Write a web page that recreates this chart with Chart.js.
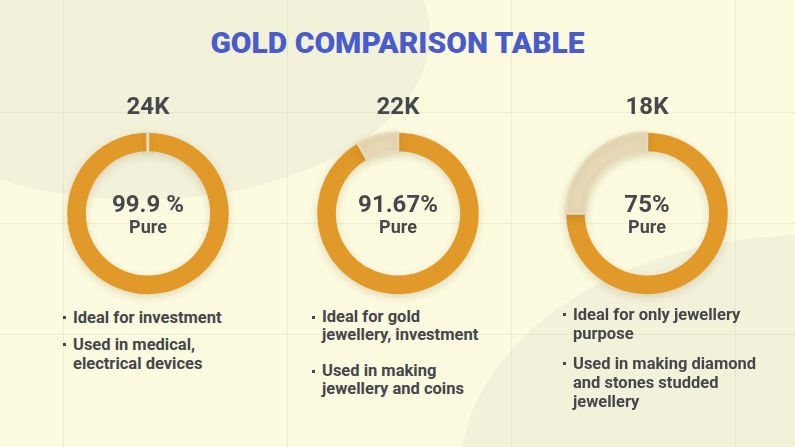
<!DOCTYPE html>
<html>
<head>
<meta charset="utf-8">
<script src="https://cdn.jsdelivr.net/npm/chart.js@4.4.0/dist/chart.umd.min.js"></script>
<style>
  html, body { margin: 0; padding: 0; }
  body {
    width: 795px; height: 447px; overflow: hidden; position: relative;
    background: #fcfbe0; font-family: Roboto, sans-serif;
  }
  .blob { position: absolute; background: #f2f1d9; border-radius: 50%; }
  .vline { position: absolute; top: 0; width: 1px; height: 447px; background: rgba(200,200,170,0.25); }
  .hline { position: absolute; left: 0; height: 1px; width: 795px; background: rgba(200,200,170,0.25); }
  h1 {
    position: absolute; left: 0; top: 25px; width: 795px; margin: 0;
    text-align: center; color: #4a5bcb; font-size: 30px; font-weight: 900; letter-spacing: 0px;
  }
  .box { position: absolute; width: 184px; height: 212px; }
  ul.uses {
    position: absolute; margin: 0; padding: 0; list-style: none;
    color: #45464a; font-size: 16.5px; font-weight: 700; line-height: 19px;
  }
  ul.uses li { position: relative; padding-left: 10px; }
  ul.uses li::before {
    content: ""; position: absolute; left: 0; top: 8px; width: 3px; height: 3px; background: #45464a;
  }
</style>
</head>
<body>
<div class="blob" style="left:-150px; top:-130px; width:580px; height:330px;"></div>
<div class="blob" style="left:460px; top:235px; width:700px; height:480px;"></div>
<div class="vline" style="left:63px"></div>
<div class="vline" style="left:287px"></div>
<div class="vline" style="left:511px"></div>
<div class="vline" style="left:735px"></div>
<div class="hline" style="top:112px"></div>
<div class="hline" style="top:223px"></div>
<div class="hline" style="top:334px"></div>

<h1>GOLD COMPARISON TABLE</h1>

<div class="box" style="left:56px; top:94px;"><canvas id="c0"></canvas></div>
<div class="box" style="left:306px; top:94px;"><canvas id="c1"></canvas></div>
<div class="box" style="left:555px; top:94px;"><canvas id="c2"></canvas></div>

<ul class="uses" id="u0" style="left:63px; top:308px; width:210px;"></ul>
<ul class="uses" id="u1" style="left:312px; top:308px; width:210px; line-height:18px;"></ul>
<ul class="uses" id="u2" style="left:563px; top:305px; width:225px;"></ul>

<script>
// data
const karats = ["24K", "22K", "18K"];
const purity = [99.9, 91.67, 75];
const centerLabels = ["99.9 %", "91.67%", "75%"];
const subLabel = "Pure";
const usesList = [
  ["Ideal for investment", "Used in medical,<br>electrical devices"],
  ["Ideal for gold<br>jewellery, investment", "Used in making<br>jewellery and coins"],
  ["Ideal for only jewellery<br>purpose", "Used in making diamond<br>and stones studded<br>jewellery"]
];
const bulletGap = [8, 18, 11];

const gold = "#e19a2a";
const rest = "#e8dab8";

// soft shadow under the ring
const shadowPlugin = {
  id: "ringShadow",
  beforeDatasetsDraw(chart) {
    const ctx = chart.ctx;
    ctx.save();
    ctx.shadowColor = "rgba(120,100,40,0.22)";
    ctx.shadowBlur = 9;
    ctx.shadowOffsetY = 3;
  },
  afterDatasetsDraw(chart) {
    chart.ctx.restore();
  }
};

// percentage + "Pure" in the middle
const centerText = {
  id: "centerText",
  afterDraw(chart, args, opts) {
    const ctx = chart.ctx;
    const meta = chart.getDatasetMeta(0).data[0];
    if (!meta) return;
    const x = meta.x, y = meta.y;
    ctx.save();
    ctx.fillStyle = "#47484b";
    ctx.textAlign = "center";
    ctx.textBaseline = "middle";
    ctx.font = "700 24px Roboto";
    ctx.fillText(opts.main, x, y - 7);
    ctx.font = "700 18px Roboto";
    ctx.fillText(opts.sub, x, y + 15);
    ctx.restore();
  }
};

karats.forEach((k, i) => {
  const ctx = document.getElementById("c" + i).getContext("2d");
  new Chart(ctx, {
    type: "doughnut",
    data: {
      labels: ["Gold", "Other"],
      datasets: [{
        data: [purity[i], +(100 - purity[i]).toFixed(2)],
        backgroundColor: [gold, rest],
        borderColor: [gold, rest],
        borderWidth: [0, 2.5],
        hoverOffset: 0
      }]
    },
    options: {
      responsive: true,
      maintainAspectRatio: false,
      animation: false,
      cutout: "77%",
      layout: { padding: { left: 10, right: 10, top: 0, bottom: 10 } },
      plugins: {
        legend: { display: false },
        tooltip: { enabled: false },
        title: {
          display: true,
          text: k,
          color: "#47484b",
          font: { family: "Roboto", size: 24, weight: "700" },
          padding: { top: 0, bottom: 8 }
        },
        centerText: { main: centerLabels[i], sub: subLabel }
      }
    },
    plugins: [shadowPlugin, centerText]
  });

  const ul = document.getElementById("u" + i);
  usesList[i].forEach((t, j) => {
    const li = document.createElement("li");
    li.innerHTML = t;
    if (j > 0) li.style.marginTop = bulletGap[i] + "px";
    ul.appendChild(li);
  });
});
</script>
</body>
</html>
